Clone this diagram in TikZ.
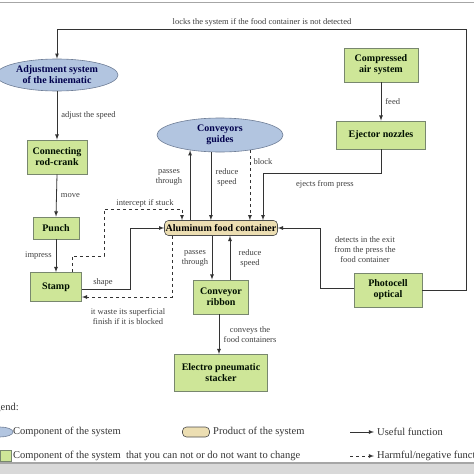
\documentclass[tikz,border=0pt]{standalone}
\usepackage{fontspec}
\setmainfont{Liberation Serif}
\usetikzlibrary{shapes.geometric}
\definecolor{boxgreen}{RGB}{206,230,152}
\definecolor{boxline}{RGB}{120,135,110}
\definecolor{ellblue}{RGB}{178,197,224}
\definecolor{ellline}{RGB}{110,125,150}
\definecolor{prodtan}{RGB}{236,222,178}
\begin{document}
\begin{tikzpicture}[x=1pt,y=-1pt,>=latex,
	comp/.style={draw=boxline, fill=boxgreen, line width=0.8pt, align=center, inner sep=1pt,
		font=\fontsize{10}{11}\selectfont\bfseries, text=black!85!green!40!black},
	syst/.style={ellipse, draw=ellline, fill=ellblue, line width=0.6pt, align=center, inner sep=0pt,
		font=\fontsize{10}{11}\selectfont\bfseries, text=blue!30!black},
	prod/.style={draw=black!70, fill=prodtan, rounded corners=4pt, line width=0.6pt, inner sep=0pt,
		font=\fontsize{10}{11}\selectfont\bfseries, text=black},
	lbl/.style={font=\fontsize{8.5}{10}\selectfont, text=black!75, align=center, inner sep=1pt},
	legtxt/.style={font=\fontsize{10.5}{12}\selectfont, text=black!80, anchor=west, inner sep=0pt},
	flow/.style={->, line width=0.8pt, black!80},
	harm/.style={->, line width=0.8pt, black!80, dashed}]

	% Frame
	\useasboundingbox (0,0) rectangle (474,474);
	\draw[gray!70, line width=0.8pt] (0,2.5) -- (474,2.5);
	\fill[gray!30] (0,463) rectangle (474,474);
	\draw[gray!70, line width=1.5pt] (0,463) -- (474,463);

	% Components
	\node[syst, minimum width=122pt, minimum height=32pt] (adjust) at (57,75) {Adjustment system\\of the kinematic};
	\node[comp, minimum width=60pt, minimum height=34pt] (rod) at (57,157) {Connecting\\rod-crank};
	\node[comp, minimum width=46pt, minimum height=22pt] (punch) at (56,228) {Punch};
	\node[comp, minimum width=51pt, minimum height=29pt] (stamp) at (56,287) {Stamp};
	\node[syst, minimum width=126pt, minimum height=34pt] (guides) at (220,135) {Conveyors\\guides};
	\node[prod, minimum width=113pt, minimum height=15pt] (alu) at (221,228) {Aluminum food container};
	\node[comp, minimum width=74pt, minimum height=34pt] (air) at (381,65) {Compressed\\air system};
	\node[comp, minimum width=89pt, minimum height=28pt] (ejector) at (381,135) {Ejector nozzles};
	\node[comp, minimum width=68pt, minimum height=34pt] (photo) at (388,290) {Photocell\\optical};
	\node[comp, minimum width=55pt, minimum height=34pt] (ribbon) at (221,297) {Conveyor\\ribbon};
	\node[comp, minimum width=93pt, minimum height=37pt] (stacker) at (221,373) {Electro pneumatic\\stacker};

	% Feedback loop
	\coordinate (loopR) at (466,29);
	\draw[flow] (photo.east) -| (loopR) -| (adjust.north);
	\node[lbl] (lockslbl) at (262,22) {locks the system if the food container is not detected};

	% Press chain
	\draw[flow] (adjust.south) -- node[lbl, right=3pt] {adjust the speed} (rod.north);
	\draw[flow] (rod.south) -- node[lbl, right=3pt] {move} (punch.north);
	\draw[flow] (punch.south) -- node[lbl, left=3pt] {impress} (stamp.north);

	% Stamp and container
	\draw[flow] ([yshift=-2pt]stamp.east) -- ++(48,0) |- (alu.west);
	\node[lbl] (shapelbl) at (103,282) {shape};
	\draw[harm] ([xshift=-49pt]alu.south) |- ([yshift=-10pt]stamp.east);
	\node[lbl] (wastelbl) at (128,317) {it waste its superficial\\finish if it is blocked};
	\draw[harm] ([xshift=16pt]stamp.north) |- (104,256) -- (104,209) -| ([xshift=-39pt]alu.north);
	\node[lbl] (stucklbl) at (145,203) {intercept if stuck};

	% Guides
	\draw[flow] (alu.north -| guides.207) -- (guides.207);
	\node[lbl] (passlbl) at (169,177) {passes\\through};
	\draw[flow] (guides.242) -- (guides.242 |- alu.north);
	\node[lbl] (reducelbl) at (227,177) {reduce\\speed};
	\draw[harm] (guides.333) -- (guides.333 |- alu.north);
	\node[lbl] (blocklbl) at (263,162) {block};

	% Air and ejector
	\draw[flow] (air.south) -- node[lbl, right=3pt] {feed} (ejector.north);
	\draw[flow] (ejector.south) -- ++(0,24) -| ([xshift=42pt]alu.north);
	\node[lbl] (ejectlbl) at (325,184) {ejects from press};

	% Photocell
	\draw[flow] ([yshift=2pt]photo.west) -- ++(-33,0) |- (alu.east);
	\node[lbl] (detectlbl) at (365,250) {detects in the exit\\from the press the\\food container};

	% Conveyor ribbon
	\draw[flow] ([xshift=-9pt]alu.south) -- ([xshift=-9pt]ribbon.north);
	\node[lbl] (pass2lbl) at (195,258) {passes\\through};
	\draw[flow] ([xshift=9pt]ribbon.north) -- ([xshift=9pt]alu.south);
	\node[lbl] (reduce2lbl) at (250,258) {reduce\\speed};
	\draw[flow] ([xshift=-2pt]ribbon.south) -- ([xshift=-2pt]stacker.north);
	\node[lbl] (conveylbl) at (250,335) {conveys the\\food containers};

	% Legend
	\node[legtxt, anchor=east] (legend) at (19,408) {Legend:};
	\node[syst, minimum width=26pt, minimum height=10pt] (legsyst) at (0,432) {};
	\node[legtxt] (legsysttxt) at (13,432) {Component of the system};
	\node[prod, minimum width=27pt, minimum height=10pt] (legprod) at (196,432) {};
	\node[legtxt] (legprodtxt) at (213,432) {Product of the system};
	\coordinate (usefulA) at (350,432);
	\coordinate (usefulB) at (374,432);
	\draw[flow] (usefulA) -- (usefulB);
	\node[legtxt] (usefultxt) at (377,432) {Useful function};
	\node[comp, minimum width=11pt, minimum height=11pt] (legcomp) at (5.5,456) {};
	\node[legtxt] (legcomptxt) at (13,456) {Component of the system~ that you can not or do not want to change};
	\coordinate (harmA) at (350,456);
	\coordinate (harmB) at (374,456);
	\draw[harm] (harmA) -- (harmB);
	\node[legtxt] (harmtxt) at (377,456) {Harmful/negative function};
\end{tikzpicture}
\end{document}
